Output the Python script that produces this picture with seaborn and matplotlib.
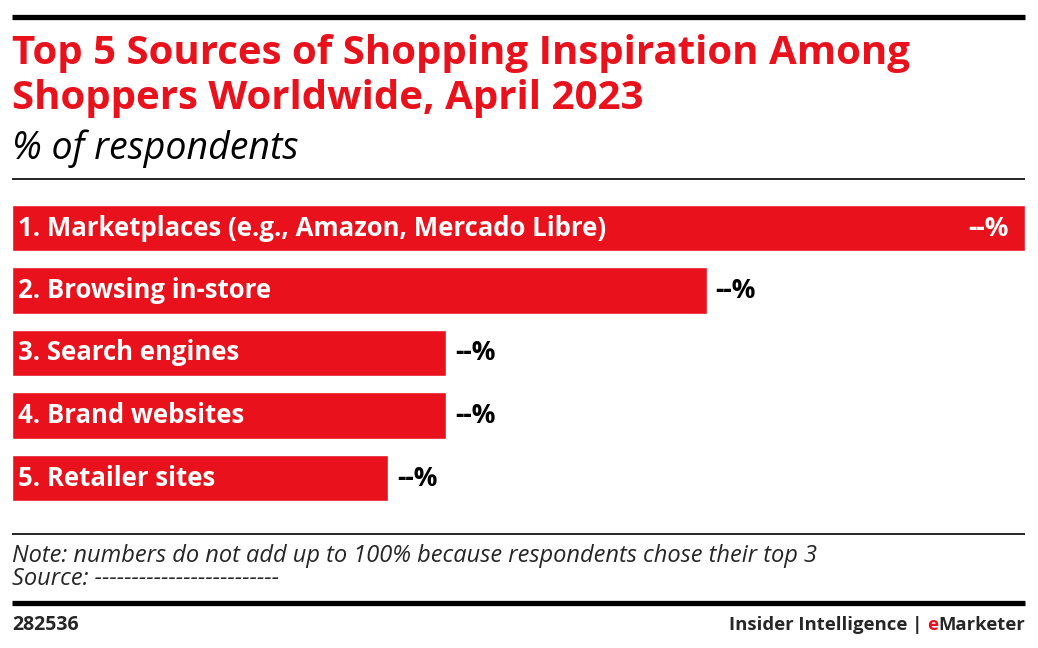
import matplotlib
matplotlib.use("Agg")
import matplotlib.pyplot as plt
import seaborn as sns
import pandas as pd
from matplotlib.lines import Line2D

categories = [
  "1. Marketplaces (e.g., Amazon, Mercado Libre)",
  "2. Browsing in-store",
  "3. Search engines",
  "4. Brand websites",
  "5. Retailer sites",
]
# bar lengths (labels in the source are masked as --%)
values = [35, 24, 15, 15, 13]
value_labels = ["--%", "--%", "--%", "--%", "--%"]

RED = "#E8111C"
W, H = 1038, 648

sns.set_theme(style="white")
plt.rcParams["font.family"] = ["Open Sans", "DejaVu Sans"]

df = pd.DataFrame({"category": categories, "value": values})

fig = plt.figure(figsize=(W / 100, H / 100), dpi=100)
ax = fig.add_axes([12 / W, 1 - 509.25 / H, (1025 - 12) / W, (509.25 - 196.75) / H])

sns.barplot(data=df, x="value", y="category", orient="h", color=RED, width=0.74,
            saturation=1, ax=ax)
ax.set_xlim(0, max(values))
ax.set_ylim(len(categories) - 0.5, -0.5)
ax.axis("off")

for i, (cat, val, lab) in enumerate(zip(categories, values, value_labels)):
  ax.text(0.2, i, cat, color="white", fontsize=18.5, fontweight="bold", va="center", ha="left")
  if i == 0:
    ax.text(val - 0.55, i, lab, color="white", fontsize=19, fontweight="bold", va="center", ha="right")
  else:
    ax.text(val + 0.3, i, lab, color="black", fontsize=19, fontweight="bold", va="center", ha="left")


def fy(px):
  return 1 - px / H


def hline(y_px, lw):
  fig.add_artist(Line2D([12 / W, 1025 / W], [fy(y_px), fy(y_px)], color="black", lw=lw,
                        solid_capstyle="butt"))


hline(16.5, 3.8)
hline(178.5, 1.2)
hline(533.5, 1.2)
hline(602.5, 3.8)

x0 = 12 / W
fig.text(x0, fy(64), "Top 5 Sources of Shopping Inspiration Among", color=RED, fontsize=29,
         fontweight="bold", va="baseline")
fig.text(x0, fy(109), "Shoppers Worldwide, April 2023", color=RED, fontsize=29,
         fontweight="bold", va="baseline")
fig.text(x0, fy(159), "% of respondents", color="black", fontsize=27, style="italic", va="baseline")

fig.text(x0, fy(562), "Note: numbers do not add up to 100% because respondents chose their top 3",
         fontsize=17, style="italic", va="baseline")
fig.text(x0, fy(585), "Source: -------------------------", fontsize=17, style="italic", va="baseline")

fig.text(x0, fy(630), "282536", fontsize=14, fontweight="bold", va="baseline")

renderer = fig.canvas.get_renderer()
right = 1025 / W
t = fig.text(right, fy(630), "Marketer", fontsize=13.3, fontweight="bold", va="baseline", ha="right")
bb = t.get_window_extent(renderer)
t2 = fig.text(bb.x0 / W, fy(630), "e", color=RED, fontsize=13.3, fontweight="bold", va="baseline", ha="right")
bb2 = t2.get_window_extent(renderer)
fig.text(bb2.x0 / W, fy(630), "Insider Intelligence | ", fontsize=13.3, fontweight="bold",
         va="baseline", ha="right")

fig.savefig("out.png", dpi=100)
